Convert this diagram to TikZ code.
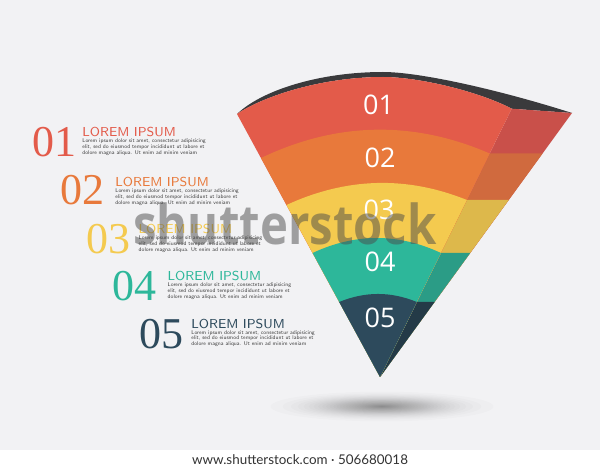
\documentclass[tikz,border=0pt]{standalone}
\usepackage{fontspec}
\newfontfamily\osans{Open Sans}
\newfontfamily\latof{Lato}
\newfontfamily\lserif{Liberation Serif}
\definecolor{bgc}{HTML}{F2F2F4}
\definecolor{cred}{HTML}{E35B4A}
\definecolor{credS}{HTML}{C9504A}
\definecolor{corange}{HTML}{E8793B}
\definecolor{corangeS}{HTML}{D06A3E}
\definecolor{cyellow}{HTML}{F4CA4F}
\definecolor{cyellowS}{HTML}{DDB84B}
\definecolor{cteal}{HTML}{2DB79A}
\definecolor{ctealS}{HTML}{2B9C86}
\definecolor{cnavy}{HTML}{2D4A5C}
\definecolor{cnavyS}{HTML}{243A47}
\definecolor{ctop}{HTML}{3A3A3C}
\definecolor{cbody}{HTML}{3C3C3C}
\definecolor{cwm}{HTML}{4B4B4B}
\definecolor{cfoot}{HTML}{333333}
\begin{document}
\begin{tikzpicture}[x=0.5pt,y=-0.5pt,
  fnum/.style={text=white,font=\osans\fontsize{13.5}{13.5}\selectfont,inner sep=0},
  bignum/.style={anchor=base west,inner sep=0,font=\lserif\fontsize{22}{22}\selectfont},
  headtxt/.style={anchor=base west,inner sep=0,font=\sffamily\fontsize{6.5}{6.5}\selectfont},
  bodytxt/.style={anchor=north west,inner sep=0,align=left,text=cbody,font=\sffamily\fontsize{2.7}{2.95}\selectfont},
  wmark/.style={anchor=base west,inner sep=0,text=cwm,text opacity=0.5,font=\osans\bfseries\fontsize{27.5}{27.5}\selectfont},
  foot/.style={inner sep=0,text=cfoot,font=\latof\fontsize{6.7}{6.7}\selectfont},
  shadowlayer/.style={fill=black,opacity=0.017}]
\useasboundingbox (0,0) rectangle (600,470);
\fill[bgc] (0,0) rectangle (600,470);
% shadow
\foreach \k in {1,...,30} {
  \pgfmathsetmacro{\fr}{1-sqrt((\k-0.5)/30)}
  \fill[shadowlayer] (382,406.5) ellipse [x radius={128*\fr}, y radius={17*\fr}];
}
% coordinates
\coordinate (L0) at (237,114); \coordinate (R0) at (511.7,108.7); \coordinate (S0) at (572,113);
\coordinate (A) at (380,377);
\coordinate (L1) at (261,158); \coordinate (R1) at (489.7,153.5); \coordinate (S1) at (542.5,153.5);
\coordinate (L2) at (286.5,205); \coordinate (R2) at (466.9,200); \coordinate (S2) at (508.7,200);
\coordinate (L3) at (312.6,253); \coordinate (R3) at (440.9,253); \coordinate (S3) at (470.2,253);
\coordinate (L4) at (339.2,302); \coordinate (R4) at (416.8,302); \coordinate (S4) at (434.5,302);
\coordinate (T0) at (383,77); \coordinate (U0) at (383,72);
% top dark strip
\fill[ctop] (L0) .. controls (262,90) and (320,72) .. (U0) .. controls (420,72) and (500,90) .. (S0)
  -- (R0) .. controls (480,92) and (420,77) .. (T0) .. controls (320,77) and (262,97) .. (L0) -- cycle;
% side faces
\fill[credS] (R0) -- (S0) -- (A) -- cycle;
\fill[corangeS] (R1) -- (S1) -- (A) -- cycle;
\fill[cyellowS] (R2) -- (S2) -- (A) -- cycle;
\fill[ctealS] (R3) -- (S3) -- (A) -- cycle;
\fill[cnavyS] (R4) -- (S4) -- (A) -- cycle;
% front faces
\fill[cred] (L0) .. controls (262,97) and (320,77) .. (T0) .. controls (420,77) and (480,92) .. (R0) -- (A) -- cycle;
\fill[corange] (L1) .. controls (336.7,121.8) and (413.3,120.3) .. (R1) -- (A) -- cycle;
\fill[cyellow] (L2) .. controls (346.6,177.3) and (406.8,175.7) .. (R2) -- (A) -- cycle;
\fill[cteal] (L3) .. controls (355.4,233) and (398.2,233) .. (R3) -- (A) -- cycle;
\fill[cnavy] (L4) .. controls (365.1,291.3) and (390.9,291.3) .. (R4) -- (A) -- cycle;
% funnel numbers
\node[fnum] (f1) at (378.5,105.3) {01};
\node[fnum] (f2) at (380,158.3) {02};
\node[fnum] (f3) at (379,210) {03};
\node[fnum] (f4) at (380,262) {04};
\node[fnum] (f5) at (380,317.5) {05};
% left blocks
\node[bignum,text=cred] (n1) at (32,157) {01};
\node[headtxt,text=cred] (h1) at (82,137) {LOREM IPSUM};
\node[bodytxt] (b1) at (82,138.6) {Lorem ipsum dolor sit amet, consectetur adipisicing\\elit, sed do eiusmod tempor incididunt ut labore et\\dolore magna aliqua. Ut enim ad minim veniam};
\node[bignum,text=corange] (n2) at (60.5,205) {02};
\node[headtxt,text=corange] (h2) at (115,186.7) {LOREM IPSUM};
\node[bodytxt] (b2) at (115,188.3) {Lorem ipsum dolor sit amet, consectetur adipisicing\\elit, sed do eiusmod tempor incididunt ut labore et\\dolore magna aliqua. Ut enim ad minim veniam};
\node[bignum,text=cyellow] (n3) at (86,253.3) {03};
\node[headtxt,text=cyellow] (h3) at (138.3,234) {LOREM IPSUM};
\node[bodytxt] (b3) at (138.3,235.6) {Lorem ipsum dolor sit amet, consectetur adipisicing\\elit, sed do eiusmod tempor incididunt ut labore et\\dolore magna aliqua. Ut enim ad minim veniam};
\node[bignum,text=cteal] (n4) at (112,301) {04};
\node[headtxt,text=cteal] (h4) at (167.3,281) {LOREM IPSUM};
\node[bodytxt] (b4) at (167.3,282.6) {Lorem ipsum dolor sit amet, consectetur adipisicing\\elit, sed do eiusmod tempor incididunt ut labore et\\dolore magna aliqua. Ut enim ad minim veniam};
\node[bignum,text=cnavy] (n5) at (139.5,348.3) {05};
\node[headtxt,text=cnavy] (h5) at (191,328.3) {LOREM IPSUM};
\node[bodytxt] (b5) at (191,329.9) {Lorem ipsum dolor sit amet, consectetur adipisicing\\elit, sed do eiusmod tempor incididunt ut labore et\\dolore magna aliqua. Ut enim ad minim veniam};
% watermark
\node[wmark] (wm) at (133,245) {\scalebox{0.86}[1]{shutterstock}};
% footer
\fill[white] (0,450) rectangle (600,470);
\node[foot] (ft) at (300,460) {www.shutterstock.com · 506680018};
\end{tikzpicture}
\end{document}
